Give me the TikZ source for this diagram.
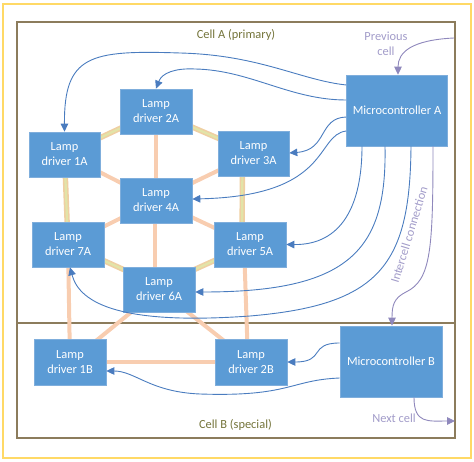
\documentclass[tikz,border=0pt]{standalone}
\usepackage{fontspec}
\setmainfont{Carlito}
\usetikzlibrary{arrows.meta}
\definecolor{boxblue}{HTML}{5B9BD5}
\definecolor{boxedge}{HTML}{7FAEDC}
\definecolor{wireblue}{HTML}{4A7CBF}
\definecolor{purp}{HTML}{8F88BC}
\definecolor{purptext}{HTML}{A29CC9}
\definecolor{peach}{HTML}{F8CDB0}
\definecolor{tanA}{HTML}{EFCFA2}
\definecolor{tanB}{HTML}{E2E4A8}
\definecolor{cellline}{HTML}{8C7C5C}
\definecolor{outerline}{HTML}{FFD966}
\definecolor{olive}{HTML}{74743A}
\begin{document}
\begin{tikzpicture}[x=1pt,y=-1pt,
  font=\fontsize{12.4}{15}\selectfont,
  box/.style={draw=boxedge, line width=0.6pt, fill=boxblue, text=white, align=center,
    inner sep=0pt, minimum width=72pt, minimum height=45pt},
  mcbox/.style={box, minimum width=101pt, minimum height=71pt},
  peachline/.style={draw=peach, line width=4pt},
  tanline/.style={draw=tanA, line width=1.6pt, double=tanB, double distance=2.2pt},
  wire/.style={draw=wireblue, line width=0.9pt, -{Triangle[length=8pt,width=7.5pt]}},
  pwire/.style={draw=purp, line width=0.9pt, -{Triangle[length=8pt,width=7.5pt]}},
  celllabel/.style={text=olive},
  plabel/.style={text=purptext},
  cellbox/.style={draw=cellline, line width=1.8pt}
]
\useasboundingbox (0,0) rectangle (474,462);
% frames
\draw[draw=outerline, line width=1.8pt] (3,4) rectangle (471,458);
\draw[cellbox] (17,22) rectangle (455,323);
\draw[cellbox] (17,323) rectangle (455,438);

% node positions (coordinates only, boxes drawn later on top of connectors)
\coordinate (p2A) at (156,111.5);
\coordinate (p1A) at (64.5,154.5);
\coordinate (p3A) at (253.5,153.5);
\coordinate (p4A) at (156,200.5);
\coordinate (p7A) at (68,244.5);
\coordinate (p5A) at (250,244.5);
\coordinate (p6A) at (159,289.5);
\coordinate (p1B) at (70,362);
\coordinate (p2B) at (251,362);

% peach / tan links
\draw[tanline] (p2A) -- (p1A);
\draw[tanline] (p2A) -- (p3A);
\draw[tanline] (p1A) -- (p7A);
\draw[tanline] ([shift={(-11,0)}]p3A) -- ([shift={(-8,0)}]p5A);
\draw[tanline] (p7A) -- ([shift={(0,-4)}]p6A);
\draw[tanline] (p5A) -- ([shift={(0,-4)}]p6A);
\draw[peachline] (p2A) -- (p4A);
\draw[peachline] (p1A) -- (p4A);
\draw[peachline] (p3A) -- (p4A);
\draw[peachline] (p4A) -- (p7A);
\draw[peachline] (p4A) -- (p5A);
\draw[peachline] ([shift={(-1,0)}]p4A) -- ([shift={(-4,0)}]p6A);
\draw[peachline] (p7A) -- (p1B);
\draw[peachline] (p6A) -- (p1B);
\draw[peachline] (p6A) -- (p2B);
\draw[peachline] ([shift={(-6,0)}]p5A) -- ([shift={(-3,0)}]p2B);
\draw[peachline] (p1B) -- (p2B);

% boxes
\node[box] (d2A) at (p2A) {Lamp\\driver 2A};
\node[box, minimum width=71pt] (d1A) at (p1A) {Lamp\\driver 1A};
\node[box, minimum width=71pt] (d3A) at (p3A) {Lamp\\driver 3A};
\node[box] (d4A) at (p4A) {Lamp\\driver 4A};
\node[box] (d7A) at (p7A) {Lamp\\driver 7A};
\node[box] (d5A) at (p5A) {Lamp\\driver 5A};
\node[box] (d6A) at (p6A) {Lamp\\driver 6A};
\node[box, minimum height=46pt] (d1B) at (p1B) {Lamp\\driver 1B};
\node[box, minimum height=46pt] (d2B) at (p2B) {Lamp\\driver 2B};
\node[mcbox] (mA) at (397,110.5) {Microcontroller A};
\node[mcbox, minimum width=102pt] (mB) at (391,361.5) {Microcontroller B};

% labels
\node[celllabel] (cellA) at (236,35) {Cell A (primary)};
\node[celllabel] (cellB) at (235.5,425) {Cell B (special)};
\node[plabel, align=center] (prevlbl) at (386,44) {Previous\\cell};
\node[plabel] (nextlbl) at (394,418) {Next cell};

% wires from Microcontroller A
\draw[wire] ([shift={(0,-25.5)}]mA.west) .. controls (300,80) and (260,55) .. (180,53)
  .. controls (90,50) and (64,55) .. (d1A.north);
\draw[wire] ([shift={(0,-10.5)}]mA.west) .. controls (290,100) and (250,70) .. (195,69)
  .. controls (175,68) and (162,73) .. (d2A.north);
\draw[wire] ([shift={(0,6.5)}]mA.west) .. controls (318,118) and (328,150) .. ([shift={(0,-0.5)}]d3A.east);
\draw[wire] ([shift={(0,20.5)}]mA.west) .. controls (315,135) and (332,196) .. ([shift={(0,-1.5)}]d4A.east);
\draw[wire] ([shift={(-35,0)}]mA.south) .. controls (362,205) and (342,245) .. (d5A.east);
\draw[wire] ([shift={(-12,0)}]mA.south) .. controls (387,250) and (350,292) .. ([shift={(0,2.5)}]d6A.east);
\draw[wire] ([shift={(14,0)}]mA.south) .. controls (410,265) and (380,305) .. (250,316)
  .. controls (125,325) and (80,305) .. ([shift={(2,0)}]d7A.south);

% intercell connection
\draw[pwire] ([shift={(36,0)}]mA.south) .. controls (433,250) and (431,280) .. (406,292)
  .. controls (394,298) and (392,305) .. ([shift={(1,0)}]mB.north);
\node[plabel, rotate=73] (interlbl) at (409,235) {Intercell connection};

% previous / next cell
\coordinate (prevIn) at (454,38);
\coordinate (nextOut) at (455,421);
\draw[pwire] (prevIn) .. controls (412,40) and (398,52) .. ([shift={(1,0)}]mA.north);
\draw[pwire] ([shift={(23,0)}]mB.south) .. controls (414,424) and (428,421) .. (nextOut);

% wires from Microcontroller B
\draw[wire] ([shift={(0,-18.5)}]mB.west) .. controls (308,343) and (326,362) .. (d2B.east);
\draw[wire] ([shift={(0,16.5)}]mB.west) .. controls (290,380) and (290,397) .. (200,394)
  .. controls (150,392) and (135,371) .. ([shift={(0,9)}]d1B.east);
\end{tikzpicture}
\end{document}
